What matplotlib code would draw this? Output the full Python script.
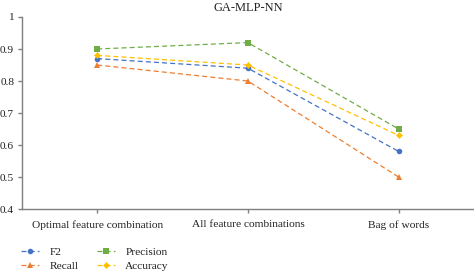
import matplotlib
matplotlib.use("Agg")
import matplotlib.pyplot as plt

categories = ["Optimal feature combination", "All feature combinations", "Bag of words"]
f2 = [0.87, 0.84, 0.58]
recall = [0.85, 0.80, 0.50]
precision = [0.90, 0.92, 0.65]
accuracy = [0.88, 0.85, 0.63]
yticks = [0.4, 0.5, 0.6, 0.7, 0.8, 0.9, 1.0]
ytick_labels = ["0.4", "0.5", "0.6", "0.7", "0.8", "0.9", "1"]

plt.rcParams['font.family'] = ['Liberation Serif', 'DejaVu Serif']

fig = plt.figure(figsize=(4.74, 2.74), dpi=100)
ax = fig.add_axes([0.046, 0.237, 0.954, 0.701])

x = list(range(len(categories)))
series = [
    ("F2", f2, "#4472C4", "o", 4),
    ("Recall", recall, "#ED7D31", "^", 4),
    ("Precision", precision, "#70AD47", "s", 4),
    ("Accuracy", accuracy, "#FFC000", "D", 3.5),
]
handles = {}
for name, vals, col, mk, ms in series:
    h, = ax.plot(x, vals, linestyle=(0, (4, 2.5)), color=col, lw=0.9,
                 marker=mk, markersize=ms, markeredgewidth=0)
    handles[name] = h

ax.set_xlim(-0.5, 2.5)
ax.set_ylim(0.4, 1.0)
ax.set_yticks(yticks)
ax.set_yticklabels(ytick_labels)
ax.set_xticks(x)
ax.set_xticklabels(categories)
for s in ["top", "right"]:
    ax.spines[s].set_visible(False)
for s in ["left", "bottom"]:
    ax.spines[s].set_color("#7f7f7f")
    ax.spines[s].set_linewidth(1.0)
ax.tick_params(axis="both", colors="#7f7f7f", labelcolor="#222222",
               labelsize=8.2, length=3, width=1.0, direction="out", pad=2.5)
ax.tick_params(axis="x", pad=5)

ax.set_title("GA-MLP-NN", fontsize=9, color="#222222", pad=4)

order = ["F2", "Recall", "Precision", "Accuracy"]
leg = fig.legend([handles[n] for n in order], order, loc="lower left",
                 bbox_to_anchor=(0.03, -0.015), ncol=2, frameon=False,
                 fontsize=8.2, handlelength=1.6, columnspacing=1.6,
                 labelspacing=0.35, handletextpad=0.9, labelcolor="#222222",
                 borderaxespad=0.2)

fig.savefig("out.png", dpi=100)
